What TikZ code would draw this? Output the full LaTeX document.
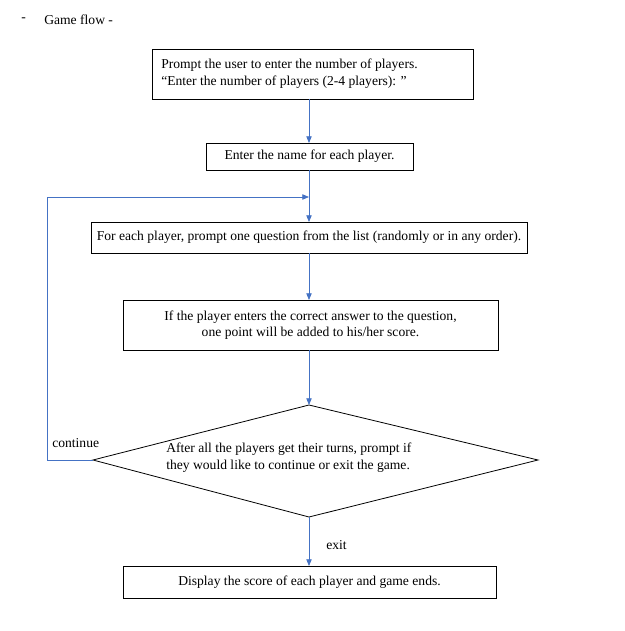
\documentclass[tikz,border=0pt]{standalone}
\usepackage{fontspec}
\setmainfont{Liberation Serif}
\usetikzlibrary{shapes.geometric,arrows.meta}
\definecolor{flowblue}{HTML}{4472C4}
\tikzset{
  box/.style={draw=black, line width=0.6pt, inner sep=0pt, font=\fontsize{10.2}{12.5}\selectfont},
  flow/.style={draw=flowblue, line width=0.6pt, -{Triangle[length=5pt,width=4pt]}},
  lbl/.style={font=\fontsize{10.2}{12.5}\selectfont, inner sep=0pt}
}
\begin{document}
\begin{tikzpicture}[x=0.75pt,y=-0.75pt]
\useasboundingbox (0,0) rectangle (624,631);
\node[lbl, anchor=west] (dash) at (21,20) {-};
\node[lbl, anchor=west] (title) at (44,20) {Game flow -};
\node[box, minimum width=321*0.75pt, minimum height=50*0.75pt] (b1) at (312.5,74) {};
\node[lbl, align=left, anchor=west] (b1t) at (161,74)
  {Prompt the user to enter the number of players.\\``Enter the number of players (2-4 players): ''};
\node[box, minimum width=207*0.75pt, minimum height=27*0.75pt] (b2) at (309.5,156.5) {Enter the name for each player.};
\node[box, minimum width=436*0.75pt, minimum height=31*0.75pt] (b3) at (309,237.5) {For each player, prompt one question from the list (randomly or in any order).};
\node[box, minimum width=375*0.75pt, minimum height=50*0.75pt, align=center] (b4) at (310.5,325)
  {If the player enters the correct answer to the question,\\one point will be added to his/her score.};
\coordinate (dn) at (309,405);
\coordinate (dw) at (93,460);
\coordinate (de) at (538,460);
\coordinate (ds) at (309,517);
\draw[line width=0.6pt] (dn) -- (de) -- (ds) -- (dw) -- cycle;
\node[lbl, align=left, anchor=west] (dt) at (166,458) {After all the players get their turns, prompt if\\they would like to continue or exit the game.};
\node[box, minimum width=373*0.75pt, minimum height=32*0.75pt] (b5) at (309.5,582) {Display the score of each player and game ends.};
\coordinate (top3) at (309,222);
\coordinate (j) at (309,197);
\coordinate (c1) at (47,460);
\coordinate (c2) at (47,197);
\draw[flow] (309,99) -- (309,143);
\draw[flow] (309,170) -- (top3);
\draw[flow] (dw) -- (c1) -- (c2) -- (j);
\draw[flow] (309,253) -- (309,300);
\draw[flow] (309,350) -- (dn);
\draw[flow] (ds) -- (309,566);
\node[lbl, anchor=west] (cont) at (52,443) {continue};
\node[lbl, anchor=west] (exit) at (326,545) {exit};
\end{tikzpicture}
\end{document}
